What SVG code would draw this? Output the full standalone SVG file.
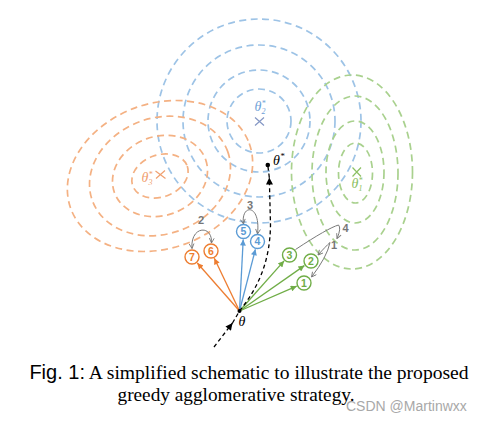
<svg xmlns="http://www.w3.org/2000/svg" width="484" height="423" viewBox="0 0 484 423">
<defs>
<style>
.bl{fill:none;stroke:#9dc3e6;stroke-width:1.7;stroke-dasharray:7 4.5}
.or{fill:none;stroke:#f4b183;stroke-width:1.7;stroke-dasharray:7 4.5}
.gr{fill:none;stroke:#a9d18e;stroke-width:1.7;stroke-dasharray:7 4.5}
.nc{fill:#fff;stroke-width:1.4}
.nt{font-family:"Liberation Sans","DejaVu Sans",sans-serif;font-weight:bold;font-size:10.5px;text-anchor:middle}
.gl{font-family:"Liberation Sans","DejaVu Sans",sans-serif;font-weight:bold;font-size:11px;fill:#767676;text-anchor:middle}
.th{font-family:"Liberation Serif","DejaVu Serif",serif;font-style:italic;font-size:14px}
.ga{fill:none;stroke:#7a7a7a;stroke-width:1}
.ao{stroke:#ed7d31;stroke-width:1.3}
.ab{stroke:#5b9bd5;stroke-width:1.3}
.ag{stroke:#70ad47;stroke-width:1.3}
.bk{fill:none;stroke:#000;stroke-width:1.3;stroke-dasharray:4 3}
</style>
<marker id="mo" viewBox="0 0 10 10" refX="10" refY="5" markerUnits="userSpaceOnUse" markerWidth="8" markerHeight="6" orient="auto"><path d="M0,0L10,5L0,10z" fill="#ed7d31"/></marker>
<marker id="mb" viewBox="0 0 10 10" refX="10" refY="5" markerUnits="userSpaceOnUse" markerWidth="8" markerHeight="6" orient="auto"><path d="M0,0L10,5L0,10z" fill="#5b9bd5"/></marker>
<marker id="mg" viewBox="0 0 10 10" refX="10" refY="5" markerUnits="userSpaceOnUse" markerWidth="8" markerHeight="6" orient="auto"><path d="M0,0L10,5L0,10z" fill="#70ad47"/></marker>
<marker id="mk" viewBox="0 0 10 10" refX="10" refY="5" markerUnits="userSpaceOnUse" markerWidth="9" markerHeight="7" orient="auto"><path d="M0,0L10,5L0,10z" fill="#000"/></marker>
<marker id="mv" viewBox="0 0 10 10" refX="9" refY="5" markerUnits="userSpaceOnUse" markerWidth="6" markerHeight="6" orient="auto-start-reverse"><path d="M1,1L9,5L1,9" fill="none" stroke="#7a7a7a" stroke-width="1.5"/></marker>
</defs>
<rect width="484" height="423" fill="#fff"/>

<g id="contours-blue">
<circle class="bl" cx="259" cy="121" r="102"/>
<circle class="bl" cx="259" cy="121" r="76"/>
<circle class="bl" cx="259" cy="121" r="51"/>
<circle class="bl" cx="259" cy="121" r="32"/>
</g>
<g id="contours-orange" transform="rotate(-20 160 176)">
<ellipse class="or" cx="160" cy="176" rx="95" ry="72.5"/>
<ellipse class="or" cx="160" cy="176" rx="72" ry="58"/>
<ellipse class="or" cx="160" cy="176" rx="48.5" ry="39.5"/>
<ellipse class="or" cx="160" cy="176" rx="29" ry="21"/>
</g>
<g id="contours-green">
<ellipse class="gr" cx="352" cy="172" rx="60.5" ry="97"/>
<ellipse class="gr" cx="355" cy="173" rx="43" ry="77"/>
<ellipse class="gr" cx="355" cy="172" rx="29" ry="51"/>
<ellipse class="gr" cx="355.5" cy="173" rx="17" ry="30"/>
</g>

<g id="optimum-2">
<path d="M255,117.5L264,125.5M255,125.5L264,117.5" stroke="#8497c4" stroke-width="1.2"/>
<text class="th" x="254.5" y="111" fill="#6fa2d8" font-size="13">θ<tspan font-size="8" dy="3">2</tspan><tspan font-size="8" dx="-4" dy="-8">*</tspan></text>
</g>
<g id="optimum-1">
<path d="M352.5,167.5L361,176.5M352.5,176.5L361,167.5" stroke="#8cc063" stroke-width="1.2"/>
<text class="th" x="351.5" y="187.5" fill="#8cc063" font-size="13">θ<tspan font-size="8" dy="3">1</tspan><tspan font-size="8" dx="-4" dy="-8">*</tspan></text>
</g>
<g id="optimum-3">
<path d="M155.5,171L165.5,178.5M156,178.5L165,170.5" stroke="#f0a070" stroke-width="1.2"/>
<text class="th" x="141.5" y="181.5" fill="#f0a070" font-size="13">θ<tspan font-size="8" dy="3">3</tspan><tspan font-size="8" dx="-4" dy="-8">*</tspan></text>
</g>

<g id="connectors">
<line class="ao" x1="239.5" y1="311" x2="197.3" y2="263" marker-end="url(#mo)"/>
<line class="ao" x1="239.5" y1="311" x2="214.3" y2="258.3" marker-end="url(#mo)"/>
<line class="ab" x1="239.5" y1="311" x2="243.2" y2="239.5" marker-end="url(#mb)"/>
<line class="ab" x1="239.5" y1="311" x2="255.4" y2="249.3" marker-end="url(#mb)"/>
<line class="ag" x1="239.5" y1="311" x2="284.1" y2="260.9" marker-end="url(#mg)"/>
<line class="ag" x1="239.5" y1="311" x2="304.4" y2="265.6" marker-end="url(#mg)"/>
<line class="ag" x1="239.5" y1="311" x2="296.7" y2="286.2" marker-end="url(#mg)"/>
<path class="ga" d="M192,248.5C190,226 212.5,224 211.5,243" marker-start="url(#mv)" marker-end="url(#mv)"/>
<path class="ga" d="M243.5,224C240.5,204 261,203 257.5,234" marker-start="url(#mv)" marker-end="url(#mv)"/>
<path class="ga" d="M295.5,249.5Q328,228 338.5,225Q341.5,228 337,238.5" marker-end="url(#mv)"/>
<path class="ga" d="M318,255Q326,246 330,242.5Q327,257 311.5,277" marker-start="url(#mv)" marker-end="url(#mv)"/>
<path class="bk" d="M214,347L232.5,323"/>
<path class="bk" d="M232.5,323L239.5,311"/>
<line x1="214" y1="347" x2="232.5" y2="323" stroke="none" marker-end="url(#mk)"/>
<path class="bk" d="M239.5,311C258,288 270,262 270.5,225L269.3,177.5" marker-end="url(#mk)"/>
<path class="bk" d="M269.3,177.5L267.8,165"/>
</g>

<g id="theta-star">
<circle cx="267.8" cy="165" r="2.3" fill="#000"/>
<text class="th" x="273" y="165" fill="#000">θ<tspan font-size="9" dy="-6">*</tspan></text>
</g>
<g id="theta">
<circle cx="239.5" cy="311" r="2" fill="#000"/>
<text class="th" x="238.5" y="326" fill="#000" font-size="13">θ</text>
</g>

<g id="node-7"><circle class="nc" cx="192" cy="257" r="7" stroke="#ed7d31"/><text class="nt" x="192" y="260.8" fill="#ed7d31">7</text></g>
<g id="node-6"><circle class="nc" cx="211" cy="251" r="7" stroke="#ed7d31"/><text class="nt" x="211" y="254.8" fill="#ed7d31">6</text></g>
<g id="node-5"><circle class="nc" cx="243.5" cy="231.5" r="7" stroke="#5b9bd5"/><text class="nt" x="243.5" y="235.3" fill="#5b9bd5">5</text></g>
<g id="node-4"><circle class="nc" cx="257.5" cy="241.5" r="7" stroke="#5b9bd5"/><text class="nt" x="257.5" y="245.3" fill="#5b9bd5">4</text></g>
<g id="node-3"><circle class="nc" cx="289.5" cy="255" r="7" stroke="#70ad47"/><text class="nt" x="289.5" y="258.8" fill="#70ad47">3</text></g>
<g id="node-2"><circle class="nc" cx="311" cy="261" r="7" stroke="#70ad47"/><text class="nt" x="311" y="264.8" fill="#70ad47">2</text></g>
<g id="node-1"><circle class="nc" cx="304" cy="283" r="7" stroke="#70ad47"/><text class="nt" x="304" y="286.8" fill="#70ad47">1</text></g>

<g id="step-labels">
<text class="gl" x="201" y="224">2</text>
<text class="gl" x="250" y="208.5">3</text>
<text class="gl" x="345.5" y="231.5">4</text>
<text class="gl" x="334" y="248.5">1</text>
</g>

<g id="caption">
<text x="249" y="379" text-anchor="middle" font-family="Liberation Serif, serif" font-size="19.6" fill="#000"><tspan font-family="Liberation Sans, sans-serif" font-size="20">Fig. 1:</tspan> A simplified schematic to illustrate the proposed</text>
<text x="236" y="401" text-anchor="middle" font-family="Liberation Serif, serif" font-size="19.3" fill="#000">greedy agglomerative strategy.</text>
<text x="346" y="411" font-family="Liberation Sans, sans-serif" font-size="14" fill="#a8a8a8">CSDN @Martinwxx</text>
</g>
</svg>
